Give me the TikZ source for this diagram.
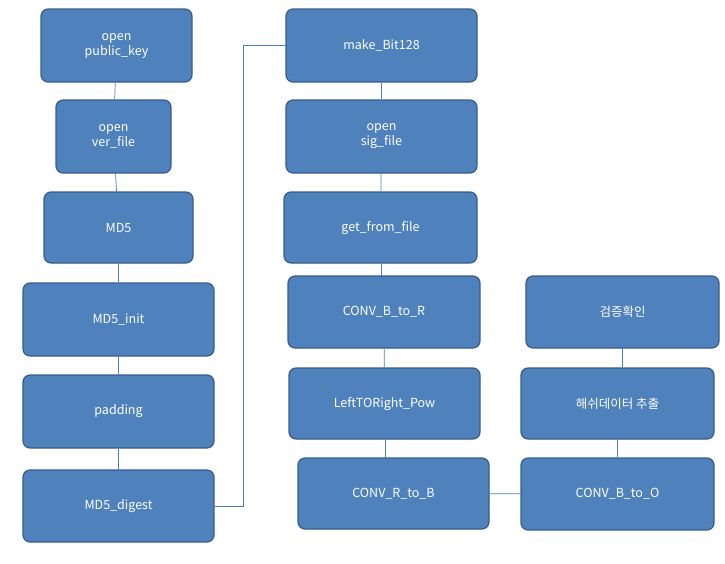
\documentclass[tikz,border=0pt]{standalone}
\usepackage{fontspec}
\setmainfont{Noto Sans CJK KR}
\definecolor{boxfill}{HTML}{4F81BD}
\definecolor{boxline}{HTML}{385D8A}
\definecolor{conn}{HTML}{4A7EBB}
\begin{document}
\begin{tikzpicture}[x=1pt,y=-1pt,
  bx/.style={draw=boxline,line width=1.2pt,fill=boxfill,rounded corners=7pt,text=white,
    font=\fontsize{12.5}{15}\selectfont,align=center,inner sep=0pt},
  cn/.style={draw=conn,line width=0.7pt}]
\useasboundingbox (0,0) rectangle (725,563);
\newcommand{\bxat}[6]{\node[bx,minimum width=#4-#2,minimum height=#5-#3] (#1) at ({(#2+#4)/2},{(#3+#5)/2}) {#6};}
\bxat{a}{41}{9}{192}{82}{open\\public\_key}
\bxat{b}{56}{100}{171}{173}{open\\ver\_file}
\bxat{c}{44}{192}{193}{263}{MD5}
\bxat{d}{23}{283}{214}{356}{MD5\_init}
\bxat{e}{23}{375}{214}{448}{padding}
\bxat{f}{23}{470}{214}{542}{MD5\_digest}
\bxat{g}{286}{9}{477}{82}{make\_Bit128}
\bxat{h}{286}{100}{477}{173}{open\\sig\_file}
\bxat{i}{284}{192}{477}{263}{get\_from\_file}
\bxat{j}{288}{276}{480}{348}{CONV\_B\_to\_R}
\bxat{k}{289}{368}{480}{439}{LeftTORight\_Pow}
\bxat{l}{298}{458}{489}{529}{CONV\_R\_to\_B}
\bxat{m}{521}{458}{714}{530}{CONV\_B\_to\_O}
\bxat{n}{521}{368}{714}{439}{해쉬데이터 추출}
\bxat{o}{526}{276}{719}{348}{검증확인}
\draw[cn] (a) -- (b); \draw[cn] (b) -- (c); \draw[cn] (c) -- (d);
\draw[cn] (d) -- (e); \draw[cn] (e) -- (f);
\draw[cn] (f.east) -- (243,506) |- (g.west);
\draw[cn] (g) -- (h); \draw[cn] (h) -- (i);
\draw[cn] (i.south -| 381,0) -- (381,276);
\draw[cn] (j) -- (k);
\draw[cn] (k.south -| 385,0) -- (385,458);
\draw[cn] (l) -- (m); \draw[cn] (m) -- (n);
\draw[cn] (n.north -| 622,0) -- (622,348);
\end{tikzpicture}
\end{document}
